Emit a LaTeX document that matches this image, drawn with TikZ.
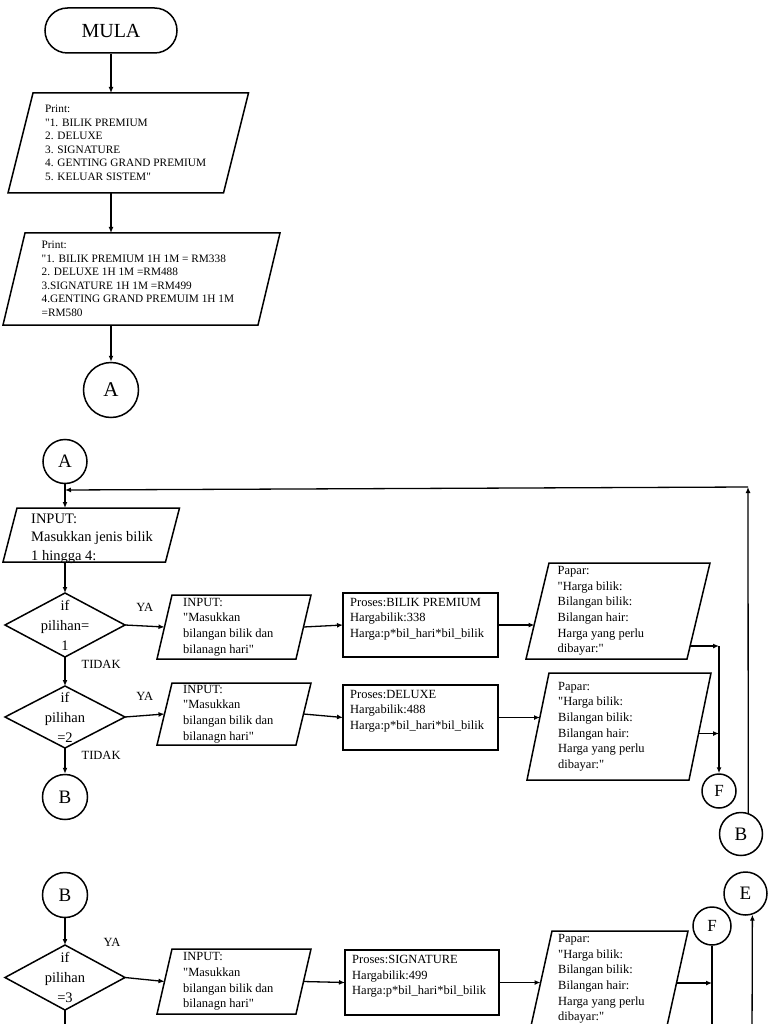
\documentclass[tikz,border=0pt]{standalone}
\usepackage{fontspec}
\setmainfont{Liberation Serif}
\usetikzlibrary{arrows.meta,shapes.geometric}

% parallelogram round a bare node: name, half slant
\newcommand{\jajar}[2]{%
  \draw[bentuk] ([xshift=#2]#1.north west) -- ([xshift=#2]#1.north east)
    -- ([xshift=-#2]#1.south east) -- ([xshift=-#2]#1.south west) -- cycle;}
\newcommand{\kp}{\textquotedbl}

\begin{document}
\begin{tikzpicture}[x=1pt,y=-1pt,
    bentuk/.style={line width=1.5pt},
    kotak/.style={inner sep=0pt,outer sep=0pt},
    proses/.style={draw,bentuk,inner sep=0pt,outer sep=0pt,minimum width=155pt},
    keputusan/.style={draw,bentuk,diamond,inner sep=0pt,outer sep=0pt,minimum width=120pt},
    bulat/.style={draw,bentuk,circle,inner sep=0pt,font=\fontsize{19}{22}\selectfont},
    panah/.style={-{Latex[length=6pt,width=5pt]},line width=1.3pt},
    garisan/.style={line width=1.3pt},
    kecil/.style={align=left,inner sep=0pt,font=\fontsize{11.3}{13.5}\selectfont},
    teks/.style={align=left,inner sep=0pt,font=\fontsize{12.5}{15.6}\selectfont},
    besar/.style={align=left,inner sep=0pt,font=\fontsize{14.5}{18.5}\selectfont},
    soalan/.style={align=center,inner sep=0pt,font=\fontsize{14.5}{20}\selectfont},
    jawapan/.style={inner sep=0pt,font=\fontsize{12.5}{15}\selectfont}]
    \clip (0,0) rectangle (768,1024);

    \node[draw,bentuk,rounded corners=22.5pt,minimum width=132pt,minimum height=45pt,
        font=\fontsize{20}{24}\selectfont] (mula) at (111,30.5) {MULA};

    \node[kotak,minimum width=215.5pt,minimum height=100pt] (cetak1) at (128.25,143) {};
    \jajar{cetak1}{12.5pt}
    \node[kecil,anchor=west] (cetak1t) at ([xshift=24.5pt]cetak1.west)
        {Print:\\\kp1. BILIK PREMIUM\\2. DELUXE\\3. SIGNATURE\\4. GENTING GRAND PREMIUM\\5. KELUAR SISTEM\kp};

    \node[kotak,minimum width=255pt,minimum height=92pt] (cetak2) at (141.5,279) {};
    \jajar{cetak2}{11pt}
    \node[kecil,anchor=west] (cetak2t) at ([xshift=27.5pt]cetak2.west)
        {Print:\\\kp1. BILIK PREMIUM 1H 1M = RM338\\2. DELUXE 1H 1M =RM488\\3.SIGNATURE 1H 1M =RM499\\4.GENTING GRAND PREMUIM 1H 1M\\=RM580};

    \node[bulat,minimum size=55pt,font=\fontsize{21}{24}\selectfont] (a1) at (111,390) {A};

    \draw[panah] (mula) -- (mula |- cetak1.north);
    \draw[panah] (cetak1.south -| mula) -- (cetak2.north -| mula);
    \draw[panah] (cetak2.south -| mula) -- (a1);

    % pilihan 1 dan 2
    \node[bulat,minimum size=44pt] (a2) at (65,461.5) {A};
    \node[kotak,minimum width=162.5pt,minimum height=54pt] (input0) at (91.25,535) {};
    \jajar{input0}{7pt}
    \node[besar,anchor=west] (input0t) at ([xshift=21pt,yshift=-3.5pt]input0.west)
        {INPUT:\\Masukkan jenis bilik\\1 hingga 4:};

    \node[keputusan,minimum height=64pt] (d1) at (65,625) {};
    \node[soalan] (d1t) at (d1) {if\\pilihan=\\1};
    \node[keputusan,minimum height=62pt] (d2) at (65,717) {};
    \node[soalan] (d2t) at (d2) {if\\pilihan\\=2};
    \node[bulat,minimum size=45pt] (b1) at (65,797) {B};

    \node[kotak,minimum width=139pt,minimum height=64pt] (input1) at (234,627) {};
    \jajar{input1}{7.5pt}
    \node[teks,anchor=west] (input1t) at ([xshift=18.5pt]input1.west)
        {INPUT:\\\kp Masukkan\\bilangan bilik dan\\bilanagn hari\kp};
    \node[kotak,minimum width=139pt,minimum height=62pt] (input2) at (234,714) {};
    \jajar{input2}{7.5pt}
    \node[teks,anchor=west] (input2t) at ([xshift=18.5pt]input2.west)
        {INPUT:\\\kp Masukkan\\bilangan bilik dan\\bilanagn hari\kp};

    \node[proses,minimum height=64pt] (proses1) at (420.5,625) {};
    \node[teks,anchor=north west] (proses1t) at ([xshift=7pt,yshift=-5pt]proses1.north west)
        {Proses:BILIK PREMIUM\\Hargabilik:338\\Harga:p*bil\_hari*bil\_bilik};
    \node[proses,minimum height=65pt] (proses2) at (420.5,717.5) {};
    \node[teks,anchor=north west] (proses2t) at ([xshift=7pt,yshift=-5pt]proses2.north west)
        {Proses:DELUXE\\Hargabilik:488\\Harga:p*bil\_hari*bil\_bilik};

    \node[kotak,minimum width=161pt,minimum height=96pt] (papar1) at (618,611) {};
    \jajar{papar1}{11.5pt}
    \node[teks,anchor=west] (papar1t) at ([xshift=20pt]papar1.west)
        {Papar:\\\kp Harga bilik:\\Bilangan bilik:\\Bilangan hair:\\Harga yang perlu\\dibayar:\kp};
    \node[kotak,minimum width=162pt,minimum height=107pt] (papar2) at (619,726.5) {};
    \jajar{papar2}{11pt}
    \node[teks,anchor=west] (papar2t) at ([xshift=20pt]papar2.west)
        {Papar:\\\kp Harga bilik:\\Bilangan bilik:\\Bilangan hair:\\Harga yang perlu\\dibayar:\kp};

    \node[bulat,minimum size=34pt,font=\fontsize{17}{20}\selectfont] (f1) at (719,791) {F};
    \node[bulat,minimum size=43pt] (b2) at (741,834) {B};
    \coordinate (j1) at (719,646);
    \coordinate (j2) at (719,733.5);
    \coordinate (sudut) at (748,487);
    \coordinate (gabung) at (65,490);

    \draw[panah] (a2) -- (a2 |- input0.north);
    \draw[panah] (b2.71) -- (sudut);
    \draw[panah] (sudut) -- (gabung);
    \draw[panah] (input0.south -| d1) -- (d1.north);
    \draw[panah] (d1.east) -- node[jawapan,above=14pt] (ya1) {YA} (input1.west);
    \draw[panah] (d1.south) -- node[jawapan,pos=0.25,right=16pt] (tidak1) {TIDAK} (d2.north);
    \draw[panah] (d2.east) -- node[jawapan,above=14pt] (ya2) {YA} (input2.west);
    \draw[panah] (d2.south) -- node[jawapan,pos=0.3,right=16pt] (tidak2) {TIDAK} (b1);
    \draw[panah] (input1.east) -- (proses1.west);
    \draw[panah] (input2.east) -- (proses2.west);
    \draw[panah] (proses1.east) -- ([xshift=-3pt]proses1.east -| papar1.west);
    \draw[panah] (proses2.east) -- ([xshift=2pt]proses2.east -| papar2.west);
    \draw[panah] ([xshift=-8.5pt,yshift=-35pt]papar1.east) -- (j1);
    \draw[panah] ([xshift=-1pt,yshift=-7pt]papar2.east) -- (j2);
    \draw[panah] (j1) -- (f1);

    % pilihan 3
    \node[bulat,minimum size=45pt] (b3) at (65,895) {B};
    \node[keputusan,minimum height=65pt] (d3) at (65,977.5) {};
    \node[soalan] (d3t) at (d3) {if\\pilihan\\=3};
    \node[jawapan] (ya3) at (112,942) {YA};
    \node[kotak,minimum width=139pt,minimum height=65pt] (input3) at (234,981.5) {};
    \jajar{input3}{7.5pt}
    \node[teks,anchor=west] (input3t) at ([xshift=18.5pt]input3.west)
        {INPUT:\\\kp Masukkan\\bilangan bilik dan\\bilanagn hari\kp};
    \node[proses,minimum width=154pt,minimum height=65pt] (proses3) at (422,982.5) {};
    \node[teks,anchor=north west] (proses3t) at ([xshift=7pt,yshift=-5pt]proses3.north west)
        {Proses:SIGNATURE\\Hargabilik:499\\Harga:p*bil\_hari*bil\_bilik};
    \node[kotak,minimum width=136pt,minimum height=104pt] (papar3) at (608.5,983) {};
    \jajar{papar3}{11.5pt}
    \node[teks,anchor=west] (papar3t) at ([xshift=17.5pt,yshift=4pt]papar3.west)
        {Papar:\\\kp Harga bilik:\\Bilangan bilik:\\Bilangan hair:\\Harga yang perlu\\dibayar:\kp};
    \node[bulat,minimum size=38pt,font=\fontsize{17}{20}\selectfont] (f2) at (712,926) {F};
    \node[bulat,minimum size=43pt] (e1) at (745.5,893.5) {E};
    \coordinate (j3) at (712,983);
    \coordinate (bawah1) at (65,1040);
    \coordinate (bawah2) at (712,1040);
    \coordinate (bawah3) at (752,1040);

    \draw[panah] (b3) -- (d3.north);
    \draw[garisan] (d3.south) -- (bawah1);
    \draw[panah] (d3.east) -- (input3.west);
    \draw[panah] (input3.east) -- (proses3.west);
    \draw[panah] (proses3.east) -- (proses3.east -| papar3.west);
    \draw[panah] (papar3.east) -- (j3);
    \draw[garisan] (f2) -- (bawah2);
    \draw[panah] (bawah3) -- (e1.-72);
\end{tikzpicture}
\end{document}
